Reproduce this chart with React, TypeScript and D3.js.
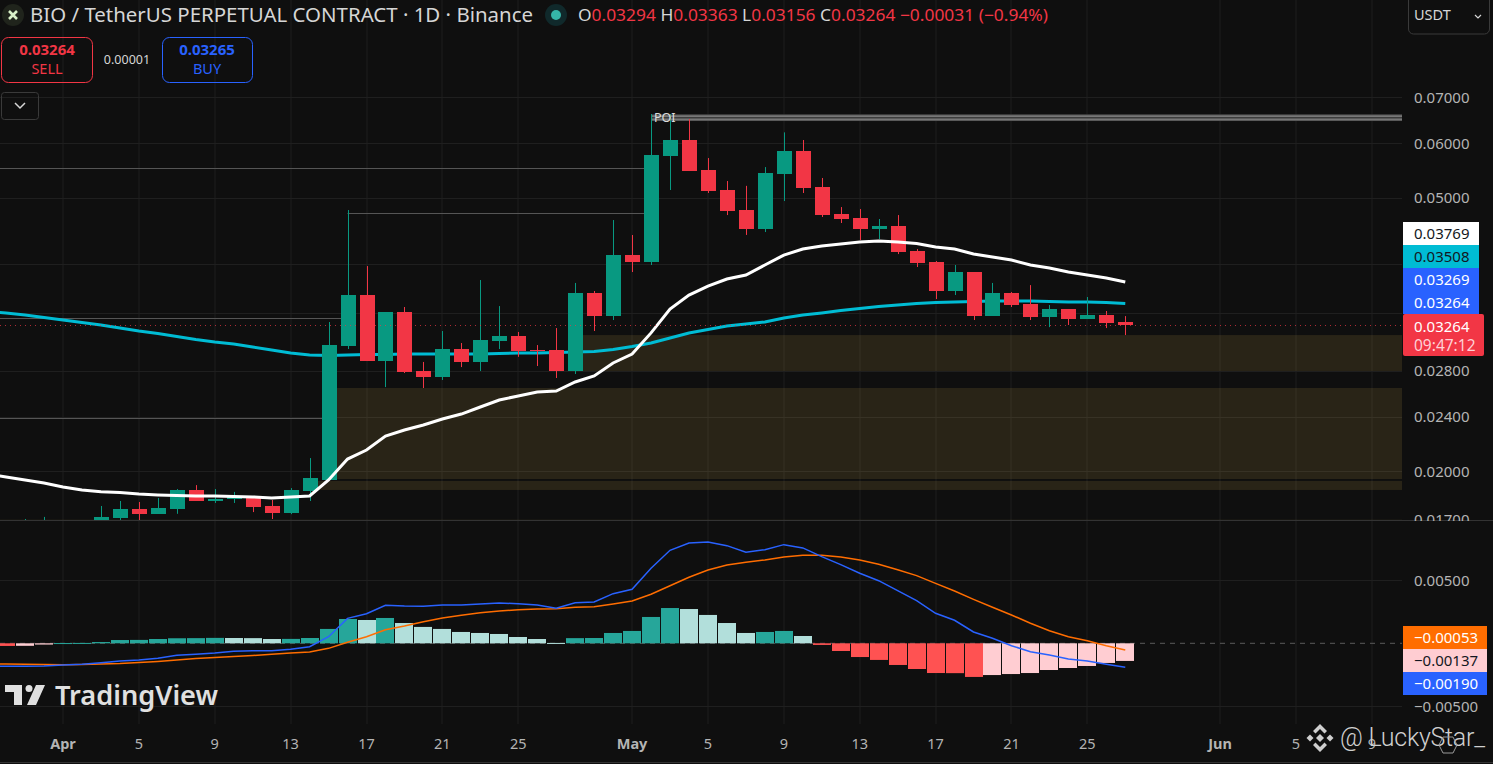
import * as d3 from "d3";

const WIDTH = 1493;
const HEIGHT = 764;
const PLOT_RIGHT = 1402;
const PANE_BOTTOM = 521;
const LABEL_X = 1414;
const FONT = "'Noto Sans', sans-serif";

const UP = "#089981";
const DOWN = "#f23645";

// daily candles from 28 Mar: open, high, low, close
const opens = [0.0160, 0.0161, 0.0162, 0.0160, 0.0167, 0.0162, 0.0168, 0.01712, 0.01762, 0.01734, 0.01762, 0.01878, 0.01810, 0.01824, 0.01834, 0.01780, 0.01738, 0.01872, 0.01942, 0.03042, 0.03609, 0.02893, 0.03409, 0.02798, 0.02742, 0.03012, 0.02884, 0.03094, 0.03146, 0.03002, 0.03002, 0.02798, 0.03633, 0.03364, 0.04126, 0.04031, 0.05750, 0.06067, 0.05486, 0.05131, 0.04798, 0.04502, 0.05413, 0.05847, 0.05182, 0.04734, 0.04671, 0.04502, 0.04548, 0.04182, 0.04031, 0.03658, 0.03898, 0.03364, 0.03633, 0.03502, 0.03352, 0.03444, 0.03330, 0.03375, 0.03294];
const highs = [0.0166, 0.0165, 0.01704, 0.01716, 0.01698, 0.0168, 0.01780, 0.01810, 0.01804, 0.01828, 0.01884, 0.01909, 0.01884, 0.01866, 0.01834, 0.01816, 0.01890, 0.02090, 0.03297, 0.04798, 0.03977, 0.03409, 0.03467, 0.02884, 0.03199, 0.03073, 0.03795, 0.03478, 0.03189, 0.03052, 0.03231, 0.03758, 0.03658, 0.04640, 0.04413, 0.06618, 0.06618, 0.06508, 0.05711, 0.05288, 0.05203, 0.05541, 0.06224, 0.06067, 0.05342, 0.04846, 0.04814, 0.04656, 0.04718, 0.04210, 0.04044, 0.03991, 0.03898, 0.03758, 0.03645, 0.03731, 0.03490, 0.03444, 0.03585, 0.03421, 0.03363];
const lows = [0.0155, 0.0156, 0.0158, 0.0155, 0.0160, 0.0158, 0.0165, 0.01698, 0.01698, 0.01734, 0.01734, 0.01810, 0.01798, 0.01798, 0.01744, 0.01704, 0.01732, 0.01810, 0.01942, 0.03012, 0.02893, 0.02651, 0.02779, 0.02643, 0.02715, 0.02835, 0.02798, 0.03012, 0.02934, 0.02845, 0.02733, 0.02770, 0.03199, 0.03319, 0.03898, 0.03991, 0.05131, 0.05468, 0.05080, 0.04718, 0.04414, 0.04457, 0.04945, 0.05080, 0.04687, 0.04594, 0.04339, 0.04354, 0.04140, 0.03964, 0.03561, 0.03609, 0.03319, 0.03364, 0.03467, 0.03319, 0.03241, 0.03264, 0.03330, 0.03231, 0.03156];
const closes = [0.0163, 0.0164, 0.0166, 0.0165, 0.0163, 0.0165, 0.01716, 0.01762, 0.01734, 0.01768, 0.01878, 0.01810, 0.01822, 0.01834, 0.01774, 0.01738, 0.01878, 0.01955, 0.03052, 0.03609, 0.02893, 0.03409, 0.02788, 0.02742, 0.03012, 0.02884, 0.03104, 0.03146, 0.02992, 0.02992, 0.02798, 0.03633, 0.03364, 0.04126, 0.04031, 0.05769, 0.06067, 0.05468, 0.05114, 0.04782, 0.04502, 0.05431, 0.05847, 0.05165, 0.04718, 0.04656, 0.04502, 0.04548, 0.04168, 0.04017, 0.03658, 0.03898, 0.03364, 0.03633, 0.03490, 0.03352, 0.03444, 0.03330, 0.03375, 0.03286, 0.03264];

const slowMa = [0.01981, 0.01961, 0.01942, 0.01923, 0.01897, 0.01878, 0.01867, 0.01862, 0.01853, 0.01847, 0.01843, 0.01841, 0.01841, 0.01838, 0.01835, 0.01828, 0.01835, 0.01841, 0.01942, 0.02083, 0.02147, 0.02250, 0.02296, 0.02335, 0.02382, 0.02422, 0.02480, 0.02539, 0.02573, 0.02608, 0.02616, 0.02697, 0.02752, 0.02874, 0.02962, 0.03179, 0.03444, 0.03609, 0.03719, 0.03808, 0.03860, 0.03991, 0.04126, 0.04210, 0.04252, 0.04281, 0.04310, 0.04325, 0.04310, 0.04288, 0.04238, 0.04210, 0.04140, 0.04099, 0.04058, 0.03991, 0.03950, 0.03898, 0.03860, 0.03821, 0.03769];
const cyanMa = [0.03415, 0.03398, 0.03375, 0.03347, 0.03319, 0.03291, 0.03264, 0.03231, 0.03199, 0.03172, 0.03140, 0.03109, 0.03083, 0.03063, 0.03032, 0.03002, 0.02972, 0.02952, 0.02947, 0.02952, 0.02957, 0.02957, 0.02962, 0.02962, 0.02962, 0.02962, 0.02962, 0.02967, 0.02972, 0.02972, 0.02977, 0.02982, 0.02987, 0.03007, 0.03037, 0.03073, 0.03125, 0.03178, 0.03215, 0.03253, 0.03275, 0.03297, 0.03341, 0.03375, 0.03398, 0.03426, 0.03449, 0.03473, 0.03490, 0.03508, 0.03520, 0.03526, 0.03532, 0.03538, 0.03538, 0.03538, 0.03532, 0.03526, 0.03526, 0.03520, 0.03508];

// MACD pane, same days
const histogram = [-0.0002, -0.00021, -0.0002, -0.0001, 0.00002, 0.00003, 0.0001, 0.00026, 0.00027, 0.00034, 0.0004, 0.00041, 0.00043, 0.00042, 0.00041, 0.00034, 0.00035, 0.00042, 0.00114, 0.00193, 0.00185, 0.00201, 0.00161, 0.0013, 0.00114, 0.0009, 0.00082, 0.00074, 0.0005, 0.00034, 0.00003, 0.00041, 0.00042, 0.00082, 0.00098, 0.00209, 0.0028, 0.00272, 0.00225, 0.00161, 0.00082, 0.0009, 0.00098, 0.00058, -0.00013, -0.00061, -0.00109, -0.00132, -0.00172, -0.00204, -0.00236, -0.00237, -0.00267, -0.00252, -0.00244, -0.00236, -0.00212, -0.00196, -0.0018, -0.00156, -0.0014];
const macdLine = [-0.00183, -0.00183, -0.00183, -0.0018, -0.00172, -0.00167, -0.00154, -0.00141, -0.00133, -0.00119, -0.00095, -0.00087, -0.00077, -0.00063, -0.00059, -0.00059, -0.00048, -0.00027, 0.00052, 0.00198, 0.00235, 0.00302, 0.00296, 0.00294, 0.00304, 0.00304, 0.00312, 0.0032, 0.00314, 0.00304, 0.00278, 0.00322, 0.00328, 0.00394, 0.00429, 0.00595, 0.00738, 0.00796, 0.00804, 0.00775, 0.00722, 0.00743, 0.00783, 0.00757, 0.00688, 0.00624, 0.00556, 0.00497, 0.00418, 0.00338, 0.00238, 0.00183, 0.0009, 0.0004, -0.00019, -0.00067, -0.00093, -0.00125, -0.00141, -0.00167, -0.0019];
const signalLine = [-0.00162, -0.00164, -0.00167, -0.00168, -0.0017, -0.00168, -0.00164, -0.0016, -0.00152, -0.00144, -0.00133, -0.00121, -0.00113, -0.00105, -0.00097, -0.00087, -0.00077, -0.00069, -0.0004, 0.00008, 0.00052, 0.00108, 0.00137, 0.00171, 0.00201, 0.00222, 0.00243, 0.00256, 0.00267, 0.00272, 0.00275, 0.00286, 0.00291, 0.00312, 0.00336, 0.00389, 0.00457, 0.00524, 0.00582, 0.00622, 0.00643, 0.00661, 0.00685, 0.00698, 0.00698, 0.00685, 0.00661, 0.00627, 0.00584, 0.00537, 0.00476, 0.00415, 0.00349, 0.00286, 0.00225, 0.00159, 0.001, 0.00052, 0.00021, -0.00019, -0.00053];

const priceTicks = [0.07, 0.06, 0.05, 0.028, 0.024, 0.02, 0.017];
const priceGrid = [0.07, 0.06, 0.05, 0.04, 0.034, 0.028, 0.024, 0.02, 0.017];
const macdTicks = [0.005, -0.005];
const dateTicks: [string, string, boolean][] = [
  ["2025-04-01", "Apr", true], ["2025-04-05", "5", false], ["2025-04-09", "9", false],
  ["2025-04-13", "13", false], ["2025-04-17", "17", false], ["2025-04-21", "21", false],
  ["2025-04-25", "25", false], ["2025-05-01", "May", true], ["2025-05-05", "5", false],
  ["2025-05-09", "9", false], ["2025-05-13", "13", false], ["2025-05-17", "17", false],
  ["2025-05-21", "21", false], ["2025-05-25", "25", false], ["2025-06-01", "Jun", true],
  ["2025-06-05", "5", false], ["2025-06-09", "9", false],
];

// [start date, top price, bottom price]; the last one runs in from the left edge
const zones: [string, number, number][] = [
  ["2025-04-28", 0.03156, 0.02798],
  ["2025-04-15", 0.02643, 0.01948],
  ["2025-04-14", 0.01936, 0.01878],
  ["2025-03-28", 0.01700, 0.01690],
];
// [start date, end date, price]; null start means from the left edge
const levels: [string | null, string, number][] = [
  [null, "2025-05-02", 0.0553],
  ["2025-04-16", "2025-05-02", 0.04745],
  [null, "2025-04-16", 0.03341],
  [null, "2025-04-15", 0.0239],
];

const firstDay = new Date(Date.UTC(2025, 2, 28));
const days = closes.map((_, i) => d3.utcDay.offset(firstDay, i));

const x = d3.scaleUtc()
  .domain([new Date("2025-04-01"), new Date("2025-06-05")])
  .range([63, 1296]);
const y = d3.scaleLog().domain([0.07, 0.017]).range([97.3, 519.7]);
const yMacd = d3.scaleLinear().domain([0.005, -0.005]).range([580.3, 706.3]);

const fmt = (v: number) => (v < 0 ? "\u2212" : "") + Math.abs(v).toFixed(5);

const maPath = d3.line<number>().x((_, i) => x(days[i])).y((d) => y(d));
const macdPath = d3.line<number>().x((_, i) => x(days[i])).y((d) => yMacd(d));

function histColor(i: number) {
  const v = histogram[i];
  const prev = i > 0 ? histogram[i - 1] : v;
  if (v >= 0) return v >= prev ? "#26a69a" : "#b2dfdb";
  return v < prev ? "#ff5252" : "#ffcdd2";
}

function Tag({ top, h, w = 76, fill, color, label }: { top: number; h: number; w?: number; fill: string; color: string; label: string }) {
  return (
    <g>
      <rect x={1403} y={top} width={w} height={h} fill={fill} />
      <text x={LABEL_X} y={top + h / 2 + 5.5} fontSize={15} fill={color}>{label}</text>
    </g>
  );
}

export default function App() {
  const zeroY = yMacd(0);
  const lastY = y(closes[closes.length - 1]);
  return (
    <svg
      width={WIDTH}
      height={HEIGHT}
      viewBox={`0 0 ${WIDTH} ${HEIGHT}`}
      style={{ position: "fixed", left: 0, top: 0, display: "block" }}
      fontFamily={FONT}
    >
      <defs>
        <clipPath id="mainPane"><rect x={0} y={0} width={PLOT_RIGHT} height={PANE_BOTTOM} /></clipPath>
        <clipPath id="axisPane"><rect x={PLOT_RIGHT} y={0} width={WIDTH - PLOT_RIGHT} height={PANE_BOTTOM} /></clipPath>
      </defs>
      <rect width={WIDTH} height={HEIGHT} fill="#0f0f0f" />

      {/* grid */}
      {dateTicks.map(([d]) => (
        <line key={d} x1={Math.round(x(new Date(d)))} x2={Math.round(x(new Date(d)))} y1={0} y2={724} stroke="#1f1f1f" />
      ))}
      {priceGrid.map((t) => (
        <line key={t} x1={0} x2={PLOT_RIGHT} y1={Math.round(y(t)) + 0.5} y2={Math.round(y(t)) + 0.5} stroke="#1f1f1f" />
      ))}
      {macdTicks.map((t) => (
        <line key={t} x1={0} x2={PLOT_RIGHT} y1={Math.round(yMacd(t)) + 0.5} y2={Math.round(yMacd(t)) + 0.5} stroke="#1f1f1f" />
      ))}

      <g clipPath="url(#mainPane)">
        {zones.map(([d, top, bottom]) => (
          <rect key={top} x={Math.max(x(new Date(d)), 0)} width={PLOT_RIGHT - Math.max(x(new Date(d)), 0)} y={y(top)} height={y(bottom) - y(top)} fill="#ffd45c" fillOpacity={0.11} />
        ))}
        {levels.map(([from, to, p]) => (
          <line key={p} x1={from ? x(new Date(from)) : 0} x2={x(new Date(to))} y1={Math.round(y(p)) + 0.5} y2={Math.round(y(p)) + 0.5} stroke="#555" />
        ))}

        {/* POI band */}
        <rect x={x(new Date("2025-05-02"))} width={PLOT_RIGHT - x(new Date("2025-05-02"))} y={y(0.06618)} height={y(0.06465) - y(0.06618)} fill="#3c3c3c" />
        <line x1={x(new Date("2025-05-02"))} x2={PLOT_RIGHT} y1={y(0.06573)} y2={y(0.06573)} stroke="#777" strokeWidth={1.6} />
        <line x1={x(new Date("2025-05-02"))} x2={PLOT_RIGHT} y1={y(0.06498)} y2={y(0.06498)} stroke="#777" strokeWidth={2} />

        <path d={maPath(cyanMa) ?? ""} fill="none" stroke="#00bcd4" strokeWidth={3} />

        {days.map((d, i) => {
          const cx = Math.round(x(d));
          const color = closes[i] >= opens[i] ? UP : DOWN;
          const top = Math.round(y(Math.max(opens[i], closes[i])));
          const bottom = Math.round(y(Math.min(opens[i], closes[i])));
          return (
            <g key={i}>
              <rect x={cx} y={y(highs[i])} width={1} height={y(lows[i]) - y(highs[i])} fill={color} />
              <rect x={cx - 7} y={top} width={15} height={Math.max(bottom - top, 1)} fill={color} />
            </g>
          );
        })}

        <path d={maPath(slowMa) ?? ""} fill="none" stroke="#ffffff" strokeWidth={3} />
        <text x={654} y={121.5} fontSize={12.5} fill="#dddddd">POI</text>
      </g>

      <line x1={0} x2={PLOT_RIGHT} y1={lastY + 0.5} y2={lastY + 0.5} stroke={DOWN} strokeOpacity={0.7} strokeDasharray="1 4" />

      {/* pane divider */}
      <line x1={0} x2={WIDTH} y1={520.5} y2={520.5} stroke="#333" />

      {/* MACD pane */}
      <line x1={0} x2={PLOT_RIGHT} y1={zeroY} y2={zeroY} stroke="#5a5a5a" strokeDasharray="5 5" />
      {days.map((d, i) => {
        const v = yMacd(histogram[i]);
        return (
          <rect key={i} x={Math.round(x(d)) - 9} y={Math.min(v, zeroY)} width={18} height={Math.max(Math.abs(v - zeroY), 1)} fill={histColor(i)} />
        );
      })}
      <path d={macdPath(signalLine) ?? ""} fill="none" stroke="#ff6d00" strokeWidth={1.5} />
      <path d={macdPath(macdLine) ?? ""} fill="none" stroke="#2962ff" strokeWidth={1.5} />

      {/* price axis */}
      <g clipPath="url(#axisPane)">
        {priceTicks.map((t) => (
          <text key={t} x={LABEL_X} y={y(t) + 5.7} fontSize={15} fill="#b4b4b4">{fmt(t)}</text>
        ))}
      </g>
      {macdTicks.map((t) => (
        <text key={t} x={LABEL_X} y={yMacd(t) + 5.7} fontSize={15} fill="#b4b4b4">{fmt(t)}</text>
      ))}

      <Tag top={222} h={23} fill="#ffffff" color="#131722" label={fmt(slowMa[60])} />
      <Tag top={245} h={23} fill="#00bcd4" color="#131722" label={fmt(cyanMa[60])} />
      <Tag top={268} h={23} fill="#2962ff" color="#ffffff" label="0.03269" />
      <Tag top={291} h={23} fill="#2962ff" color="#ffffff" label="0.03264" />
      <rect x={1403} y={314} width={81} height={42} rx={2} fill={DOWN} />
      <text x={LABEL_X} y={332} fontSize={15} fill="#ffffff">{fmt(closes[60])}</text>
      <text x={LABEL_X} y={351} fontSize={15.5} fill="#ffd0d5">09:47:12</text>

      <Tag top={626} h={23} w={84} fill="#ff6d00" color="#ffffff" label={fmt(signalLine[60])} />
      <Tag top={649} h={23} w={84} fill="#ffcdd2" color="#131722" label={fmt(-0.00137)} />
      <Tag top={672} h={23} w={84} fill="#2962ff" color="#ffffff" label={fmt(macdLine[60])} />

      {/* time axis */}
      {dateTicks.map(([d, label, major]) => (
        <text key={d} x={x(new Date(d))} y={749} fontSize={14.5} fontWeight={major ? 700 : 400} fill="#b4b4b4" textAnchor="middle">{label}</text>
      ))}
      <line x1={0} x2={WIDTH} y1={762.5} y2={762.5} stroke="#333" />

      {/* header */}
      <circle cx={13} cy={15} r={11} fill="#20241c" />
      <path d="M9 11 L17 19 M17 11 L9 19" stroke="#d8f0c8" strokeWidth={2.6} />
      <text x={30} y={22} fontSize={20.5} fill="#d6d6d6" textLength={503} lengthAdjust="spacingAndGlyphs">BIO / TetherUS PERPETUAL CONTRACT · 1D · Binance</text>
      <circle cx={556} cy={15} r={11} fill="#10292b" />
      <circle cx={556} cy={15} r={5} fill="#35b5a8" />
      <text x={578} y={21} fontSize={16.5} fill={DOWN} textLength={470} lengthAdjust="spacingAndGlyphs">
        <tspan fill="#d6d6d6">O</tspan>0.03294 <tspan fill="#d6d6d6">H</tspan>0.03363 <tspan fill="#d6d6d6">L</tspan>0.03156 <tspan fill="#d6d6d6">C</tspan>0.03264 −0.00031 (−0.94%)
      </text>

      {/* order buttons */}
      <rect x={1.5} y={37.5} width={91} height={45} rx={7} fill="none" stroke={DOWN} />
      <text x={47} y={55} fontSize={15} fontWeight={700} fill={DOWN} textAnchor="middle">0.03264</text>
      <text x={47} y={74} fontSize={14.5} fill={DOWN} textAnchor="middle">SELL</text>
      <text x={127} y={64} fontSize={12.5} fill="#d6d6d6" textAnchor="middle">0.00001</text>
      <rect x={162.5} y={37.5} width={90} height={45} rx={7} fill="none" stroke="#2962ff" />
      <text x={207} y={55} fontSize={15} fontWeight={700} fill="#2962ff" textAnchor="middle">0.03265</text>
      <text x={207} y={74} fontSize={14.5} fill="#2962ff" textAnchor="middle">BUY</text>
      <rect x={1.5} y={92.5} width={37} height={27} rx={3} fill="none" stroke="#3a3a3a" />
      <path d="M15 103 L20 108 L25 103" fill="none" stroke="#d6d6d6" strokeWidth={1.5} />

      {/* currency selector */}
      <rect x={1408.5} y={-6} width={81} height={40} rx={5} fill="none" stroke="#3a3a3a" />
      <text x={1414} y={20} fontSize={14.5} fill="#d6d6d6">USDT</text>
      <path d="M1475 15 L1478 18 L1481 15" fill="none" stroke="#d6d6d6" strokeWidth={1.2} />

      {/* TradingView watermark */}
      <path d="M5 685 H22 V705 H14 V692 H5 Z M36 685 H45 L36 705 H27 Z" fill="#e0e0e0" />
      <circle cx={29} cy={688.5} r={3.5} fill="#e0e0e0" />
      <text x={55} y={705} fontSize={27} fontWeight={600} fill="#e0e0e0" textLength={163} lengthAdjust="spacingAndGlyphs">TradingView</text>

      {/* Binance square watermark */}
      <g fill="#cfcfcf">
        <path d="M1320 724 L1327 731 L1324.5 733.5 L1320 729 L1315.5 733.5 L1313 731 Z" />
        <path d="M1320 752 L1327 745 L1324.5 742.5 L1320 747 L1315.5 742.5 L1313 745 Z" />
        <path d="M1320 734 L1324 738 L1320 742 L1316 738 Z" />
        <path d="M1310 734.5 L1313.5 738 L1310 741.5 L1306.5 738 Z" />
        <path d="M1330 734.5 L1333.5 738 L1330 741.5 L1326.5 738 Z" />
      </g>
      <text x={1340} y={746} fontSize={25} fontFamily="Roboto, sans-serif" fontWeight={300} fill="#cfcfcf" textLength={145} lengthAdjust="spacing">@ LuckyStar_</text>
      <path d="M1443 737 H1453 L1457 745 L1453 753 H1443 L1439 745 Z" fill="none" stroke="#9a9a9a" />
    </svg>
  );
}
